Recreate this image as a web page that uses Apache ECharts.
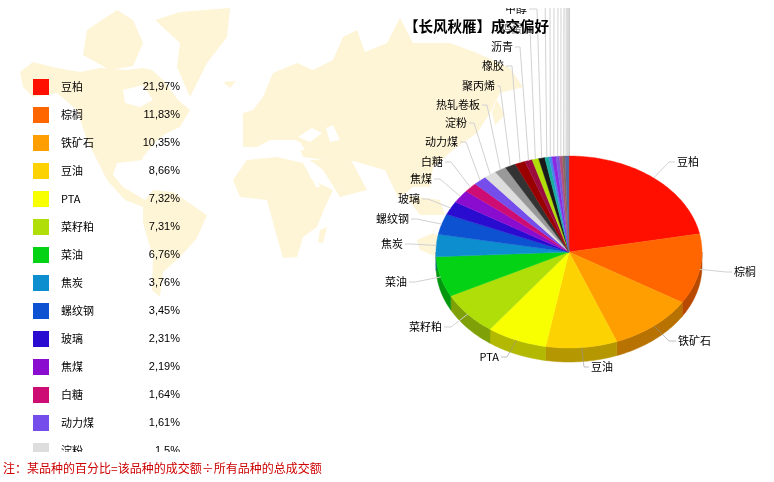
<!DOCTYPE html>
<html><head><meta charset="utf-8">
<style>html,body{margin:0;padding:0;background:#fff}#c{width:774px;height:482px}</style>
<script src="https://cdn.jsdelivr.net/npm/echarts@6/dist/echarts.min.js"></script>
</head><body><div id="c"></div>
<script>
// ---- data ----
var categories = ['豆柏','棕榈','铁矿石','豆油','PTA','菜籽粕','菜油','焦炭','螺纹钢','玻璃','焦煤','白糖','动力煤','淀粉','热轧卷板','聚丙烯','橡胶','沥青','鸡蛋','甲醇','塑料','棉花','白银','PVC','玉米','强麦','黄金'];
var shares = [21.97,11.83,10.35,8.66,7.32,7.31,6.76,3.76,3.45,2.31,2.19,1.64,1.61,1.5,1.42,1.3,1.25,0.9,0.8,0.75,0.5,0.35,0.5,0.42,0.35,0.32,0.48];
var colors = ['#FF0F00','#FF6600','#FF9E01','#FCD202','#F8FF01','#B0DE09','#04D215','#0D8ECF','#0D52D1','#2A0CD0','#8A0CCF','#CD0D74','#754DEB','#DDDDDD','#999999','#333333','#990000','#9B0B40','#B0DE09','#1A1A1A','#18B0A0','#4488EE','#8A2BE2','#7A5BE0','#B05080','#8A6A5A','#5A6AA0'];
var legendCount = 14;
var titleText = '【长风秋雁】成交偏好';
var noteText = '注：某品种的百分比=该品种的成交额÷所有品种的总成交额';

// ---- layout ----
var CX = 569, CY = 252, RX = 133, RY = 96, DEPTH = 14;
var labelEdge = [677,734,678,591,499,442,407,403,409,420,432,443,458,467,480,495,504,513,522,527];
var labelY = [162,272,341,367,357,327,282,244,219,199,179,162,142,123,105,86,66,47,29,9];
var elbowX = [669,726,669,584,507,451,415,411,417,428,440,451,466,474,487,500,512,520,530,537,545,550,554,558,561,564,567];
var rightSide = 4; // first four labels sit right of the pie

var mapShapes = [
 // North America
 [[20,72],[33,62],[57,68],[80,72],[100,68],[125,70],[143,68],[152,70],[165,82],[178,100],[190,110],[180,127],[167,133],[157,140],[143,157],[140,172],[125,165],[117,163],[113,175],[123,187],[140,197],[150,203],[143,207],[125,200],[107,180],[87,140],[77,110],[57,93],[33,97],[23,87]],
 // Canadian arctic
 [[87,30],[117,10],[133,20],[143,43],[133,66],[110,70],[83,55]],
 // Greenland
 [[155,20],[180,12],[230,8],[227,37],[207,63],[190,97],[177,67],[180,43]],
 // Iceland
 [[223,82],[236,81],[230,88]],
 // South America
 [[143,203],[153,190],[173,192],[207,215],[197,238],[180,257],[163,272],[160,297],[152,290],[153,257],[143,223]],
 // Eurasia
 [[243,113],[253,110],[263,97],[273,73],[297,63],[313,70],[333,60],[343,37],[357,30],[365,52],[387,43],[400,18],[413,43],[450,43],[477,53],[510,68],[523,87],[500,93],[490,113],[477,133],[453,150],[433,167],[430,187],[413,187],[407,192],[398,197],[385,170],[367,165],[350,160],[327,160],[303,157],[297,140],[270,140],[257,147],[243,147]],
 // Arabia
 [[310,160],[350,158],[367,190],[340,197],[323,170]],
 // Africa
 [[233,180],[247,160],[277,157],[303,163],[312,180],[333,190],[325,207],[317,227],[303,237],[297,257],[283,258],[275,230],[267,200],[240,197]],
 // Madagascar
 [[320,230],[327,227],[323,243],[318,242]],
 // South-east Asia & islands
 [[405,195],[440,200],[445,215],[420,215]],
 // Australia
 [[417,240],[433,233],[450,240],[440,258],[420,250]],
 // Japan
 [[497,100],[505,115],[495,125],[492,112]]
];
var mapHoles = [
 [[123,90],[143,85],[153,100],[140,107],[125,103]],
 [[117,163],[143,160],[140,172],[125,178],[118,173]],
 [[258,148],[280,140],[300,142],[305,150],[285,150],[265,155]],
 [[298,137],[312,128],[322,133],[310,142]],
 [[326,128],[333,125],[340,140],[330,142]],
 [[305,163],[310,163],[320,187],[316,187]]
];

function pt(angle, dy) {
  return [CX + RX * Math.sin(angle), CY - RY * Math.cos(angle) + (dy || 0)];
}
function darken(hex) {
  var n = parseInt(hex.slice(1), 16), f = 0.72;
  return 'rgb(' + Math.round((n >> 16) * f) + ',' + Math.round(((n >> 8) & 255) * f) + ',' + Math.round((n & 255) * f) + ')';
}
var total = shares.reduce(function (a, b) { return a + b; }, 0);
var startAngles = [];
shares.reduce(function (acc, v, i) { startAngles[i] = acc; return acc + v; }, 0);

function arc(a0, a1, dy) {
  var n = Math.max(2, Math.ceil(Math.abs(a1 - a0) / 0.02)), out = [];
  for (var k = 0; k <= n; k++) out.push(pt(a0 + (a1 - a0) * k / n, dy));
  return out;
}

function renderItem(params, api) {
  var i = params.dataIndex, v = api.value(1);
  var a0 = startAngles[i] / total * 2 * Math.PI, a1 = a0 + v / total * 2 * Math.PI;
  var col = colors[i], shade = darken(col);
  var kids = [];
  // side wall, only the part facing the viewer
  var s0 = Math.max(a0, Math.PI / 2), s1 = Math.min(a1, 3 * Math.PI / 2);
  if (s1 > s0) {
    var side = arc(s0, s1, 0).concat(arc(s1, s0, DEPTH));
    kids.push({ type: 'polygon', z2: 1, shape: { points: side },
      style: { fill: shade, stroke: shade, lineWidth: 0.5 } });
  }
  // top face
  kids.push({ type: 'polygon', z2: 2, shape: { points: [[CX, CY]].concat(arc(a0, a1, 0)) },
    style: { fill: col, stroke: col, lineWidth: 0.4 } });
  // leader line and label
  var mid = (a0 + a1) / 2, p = pt(mid, 0), right = i < rightSide;
  var ly = i < labelY.length ? labelY[i] : -12;
  var endX = i < labelEdge.length ? (right ? labelEdge[i] - 2 : labelEdge[i] + 2) : elbowX[i];
  kids.push({ type: 'polyline', z2: 3, shape: { points: [p, [elbowX[i], ly], [endX, ly]] },
    style: { fill: null, stroke: i >= 2 && i <= 4 ? 'rgba(150,150,150,0.6)' : '#d2d2d2', lineWidth: 1 } });
  if (i < labelEdge.length) {
    kids.push({ type: 'text', z2: 4, style: {
      text: api.value(0), x: labelEdge[i], y: ly,
      align: right ? 'left' : 'right', verticalAlign: 'middle',
      font: '11px "Noto Sans CJK SC", "Liberation Sans"', fill: i === 18 ? '#777' : '#000' } });
  }
  // legend row
  if (i < legendCount) {
    var ry = 87 + i * 28;
    kids.push({ type: 'rect', z2: 5, shape: { x: 33, y: ry - 8, width: 16, height: 16 }, style: { fill: col } });
    kids.push({ type: 'text', z2: 5, style: { text: api.value(0), x: 61, y: ry, align: 'left', verticalAlign: 'middle',
      font: '11px "Noto Sans CJK SC", "Liberation Sans"', fill: '#000' } });
    kids.push({ type: 'text', z2: 5, style: { text: String(v).replace('.', ',') + '%', x: 180, y: ry, align: 'right', verticalAlign: 'middle',
      font: '11px "Liberation Sans"', fill: '#000' } });
  }
  return { type: 'group', children: kids };
}

var graphics = [];
mapShapes.forEach(function (s) {
  graphics.push({ type: 'polygon', z: -3, silent: true, shape: { points: s }, style: { fill: '#FEF4D6' } });
});
mapHoles.forEach(function (s) {
  graphics.push({ type: 'polygon', z: -2, silent: true, shape: { points: s }, style: { fill: '#fff' } });
});
graphics.push({ type: 'rect', z: -1, silent: true, shape: { x: 564, y: 0, width: 6, height: 160 },
  style: { fill: new echarts.graphic.LinearGradient(0, 0, 1, 0, [{ offset: 0, color: 'rgba(235,235,235,0.4)' }, { offset: 1, color: '#c8c8c8' }]) } });
graphics.push({ type: 'rect', z: 100, silent: true, shape: { x: 0, y: 0, width: 774, height: 8 }, style: { fill: '#fff' } });
graphics.push({ type: 'rect', z: 100, silent: true, shape: { x: 0, y: 452, width: 330, height: 30 }, style: { fill: '#fff' } });
graphics.push({ type: 'text', z: 101, silent: true, x: 3, y: 468, style: { text: noteText, align: 'left', verticalAlign: 'middle',
  font: '12px "Noto Sans CJK SC"', fill: '#CC0000' } });

var chart = echarts.init(document.getElementById('c'), null, { renderer: 'canvas' });
chart.setOption({
  animation: false,
  backgroundColor: '#fff',
  title: { text: titleText, left: 404, top: 19, itemGap: 0, padding: 0,
    textStyle: { fontSize: 14.5, fontWeight: 'bold', color: '#000', fontFamily: '"Noto Sans CJK SC"' } },
  graphic: { elements: graphics },
  series: [{
    type: 'custom', coordinateSystem: 'none', renderItem: renderItem, silent: true, clip: false,
    data: categories.map(function (c, i) { return [c, shares[i]]; })
  }]
});
</script></body></html>
